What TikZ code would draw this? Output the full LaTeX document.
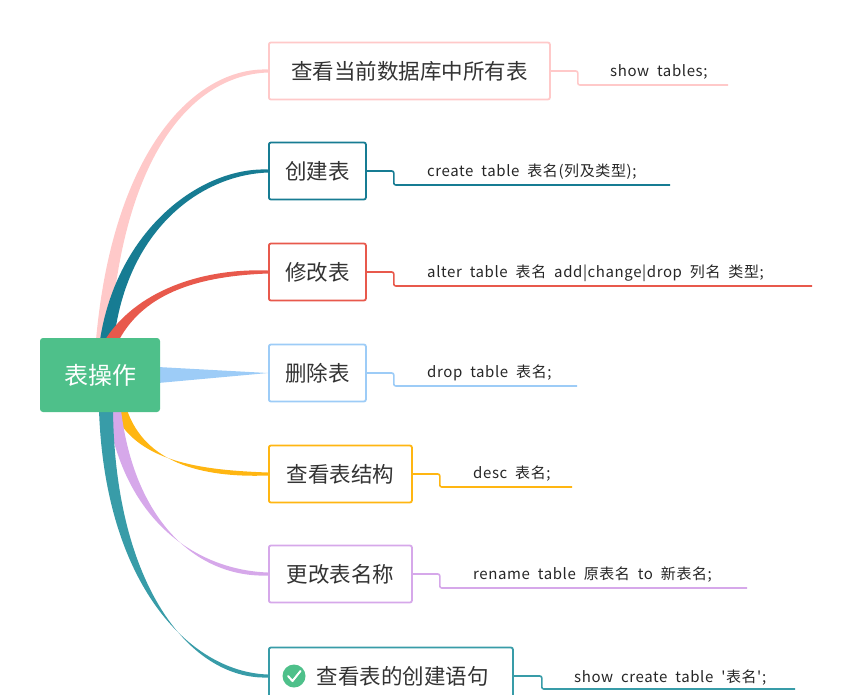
\documentclass[tikz,border=0pt]{standalone}
\usepackage{fontspec}
\setmainfont{Noto Sans CJK SC}
\newfontfamily\codefont[LetterSpace=4,WordSpace=2]{Noto Sans CJK SC}
\usetikzlibrary{calc}
\definecolor{cpink}{HTML}{FFC9C9}
\definecolor{cteal}{HTML}{177C93}
\definecolor{cred}{HTML}{E8594C}
\definecolor{cblue}{HTML}{9DCCF7}
\definecolor{corange}{HTML}{FFB612}
\definecolor{cpurple}{HTML}{D6A8EA}
\definecolor{cteal2}{HTML}{389CA8}
\definecolor{cgreen}{HTML}{4EC08A}
% tapered branch: colour, start x, start y, c1, c2, end node
\newcommand\branch[8]{%
  \fill[#1] (#2-7,#3) .. controls (#4-5,#5) and (#6,#7-4) .. ($(#8.west)+(0,-1.5)$)
    -- ($(#8.west)+(0,1.5)$) .. controls (#6,#7+4) and (#4+5,#5) .. (#2+7,#3) -- cycle;}
\begin{document}
\begin{tikzpicture}[x=1pt,y=-1pt]

\tikzset{
  topic/.style={draw=#1, line width=1.8pt, rounded corners=2pt, fill=white,
    anchor=west, minimum height=57pt, inner xsep=0pt, text=black!80,
    font=\fontsize{21.5}{21.5}\selectfont},
  code/.style={anchor=base west, inner sep=0pt, text=black!85,
    font=\codefont\fontsize{15}{15}\selectfont},
  leaf/.style={draw=#1, line width=1.6pt, rounded corners=2pt}
}

\useasboundingbox (0,0) rectangle (858,694);

\node[topic=cpink, minimum width=281pt]   (n1) at (268,71)  {查看当前数据库中所有表};
\node[topic=cteal, minimum width=97pt]    (n2) at (268,171) {创建表};
\node[topic=cred, minimum width=97pt]     (n3) at (268,272) {修改表};
\node[topic=cblue, minimum width=97pt]    (n4) at (268,373) {删除表};
\node[topic=corange, minimum width=143pt] (n5) at (268,474) {查看表结构};
\node[topic=cpurple, minimum width=143pt] (n6) at (268,574) {更改表名称};
\node[topic=cteal2, minimum width=244pt, text width=196pt, align=right]
  (n7) at (268,676) {查看表的创建语句};
\fill[cgreen] ($(n7.west)+(26,0)$) circle (11.5);
\draw[white, line width=2pt, line cap=round, line join=round]
  ($(n7.west)+(20,0)$) -- ++(4.5,5) -- ++(8,-10);

% branches
\branch{cpink}{103}{340}{118}{150}{195}{71}{n1}
\branch{cteal}{107}{340}{122}{230}{200}{171}{n2}
\branch{cred}{112}{340}{140}{292}{200}{272}{n3}
\fill[cblue] (158,367) -- (n4.west) -- (158,383) -- cycle;
\branch{corange}{120}{410}{140}{462}{200}{474}{n5}
\branch{cpurple}{114}{410}{130}{525}{200}{574}{n6}
\branch{cteal2}{106}{410}{110}{585}{190}{676}{n7}

\node[fill=cgreen, rounded corners=3pt, minimum width=120pt, minimum height=74pt,
  text=white, font=\fontsize{24}{24}\selectfont] (root) at (100,375) {表操作};

% leaves
\coordinate (u1) at (728,85);
\coordinate (u2) at (670,185);
\coordinate (u3) at (812,286);
\coordinate (u4) at (577,386);
\coordinate (u5) at (572,487);
\coordinate (u6) at (747,588);
\coordinate (u7) at (795,689);
\draw[leaf=cpink]   (n1.east) -- ++(27,0) |- (u1);
\draw[leaf=cteal]   (n2.east) -- ++(27,0) |- (u2);
\draw[leaf=cred]    (n3.east) -- ++(27,0) |- (u3);
\draw[leaf=cblue]   (n4.east) -- ++(27,0) |- (u4);
\draw[leaf=corange] (n5.east) -- ++(27,0) |- (u5);
\draw[leaf=cpurple] (n6.east) -- ++(27,0) |- (u6);
\draw[leaf=cteal2]  (n7.east) -- ++(28,0) |- (u7);

\node[code] (t1) at (610,76)  {show\ tables;};
\node[code] (t2) at (427,176) {create\ table\ 表名(列及类型);};
\node[code] (t3) at (427,277) {alter\ table\ 表名\ add|change|drop\ 列名\ 类型;};
\node[code] (t4) at (427,377) {drop\ table\ 表名;};
\node[code] (t5) at (473,478) {desc\ 表名;};
\node[code] (t6) at (473,579) {rename\ table\ 原表名\ to\ 新表名;};
\node[code] (t7) at (574,682) {show\ create\ table\ '表名';};

\end{tikzpicture}
\end{document}
